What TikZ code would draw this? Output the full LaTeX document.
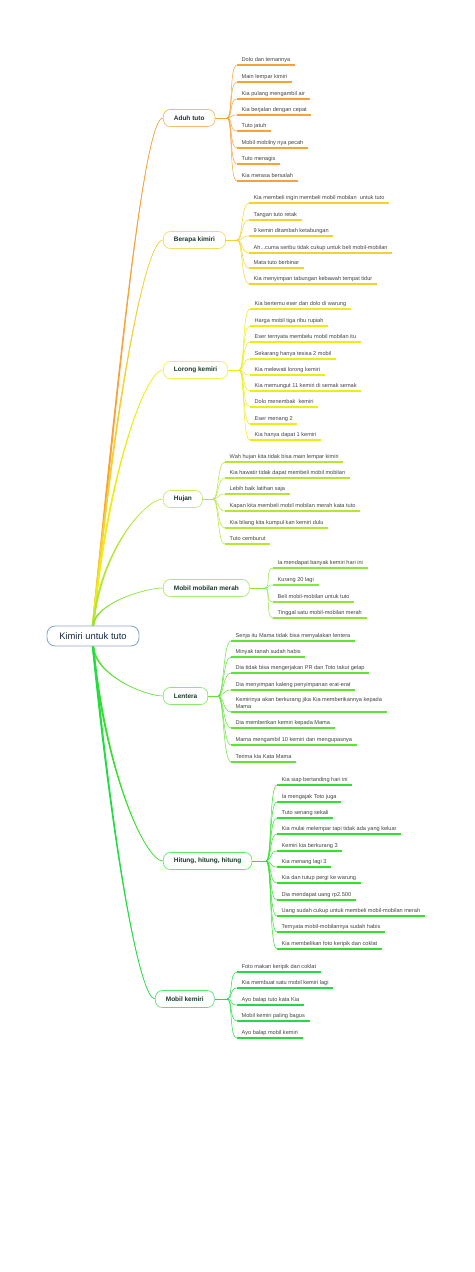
\documentclass[tikz,border=0pt]{standalone}
\usepackage{fontspec}
\setmainfont{Liberation Sans}
\usetikzlibrary{calc}
\definecolor{cA}{HTML}{F7A23B}
\definecolor{cB}{HTML}{F6D02E}
\definecolor{cC}{HTML}{EDEE10}
\definecolor{cD}{HTML}{B4E82E}
\definecolor{cE}{HTML}{8EE63C}
\definecolor{cF}{HTML}{5EE436}
\definecolor{cG}{HTML}{34E02C}
\definecolor{cH}{HTML}{22DC46}
\definecolor{rootc}{HTML}{8FA6C4}
\definecolor{roottext}{HTML}{1B2A48}
\definecolor{branchtext}{HTML}{1C3A2A}
\definecolor{leaftext}{HTML}{444444}
\pgfdeclarelayer{bg}
\pgfsetlayers{bg,main}
\newcommand\threedots{.{}.{}.}
\tikzset{
  rootbox/.style={draw=rootc, line width=0.9, rounded corners=8, fill=white,
    minimum width=92, minimum height=20, inner xsep=6,
    font=\fontsize{9.4}{11}\selectfont, text=roottext},
  branchbox/.style={draw=#1, line width=0.7, rounded corners=7, fill=white,
    minimum height=17, inner xsep=10.5, anchor=west,
    font=\bfseries\fontsize{6.5}{8}\selectfont, text=branchtext},
  leaf/.style={anchor=south west, inner xsep=4.5, inner ysep=2.6, text depth=1.2,
    font=\fontsize{5.6}{6.5}\selectfont, text=leaftext, align=left},
  ul/.style={line width=1.2, #1},
  twig/.style={line width=0.5, #1},
  stem/.style={line width=0.8, #1}
}
\newcommand\leafset[4]{%
  \foreach \yy/\lt [count=\i] in {#4} {
    \node[leaf] (#1\i) at (#3,\yy) {\lt};
    \begin{pgfonlayer}{bg}
    \draw[ul=#2] (#1\i.south west) -- (#1\i.south east);
    \draw[twig=#2] (#1J) .. controls ($(#1J)+(6,0)$) and ($(#1\i.south west)+(-8,0)$) .. (#1\i.south west);
    \end{pgfonlayer}
  }%
}
\newcommand\trunk[5]{%
  \fill[#1] ($(root.#2)+(-1.1,0)$) .. controls ($#4+(-1.1,0)$) and #5 .. (#3.west)
     .. controls #5 and ($#4+(1.1,0)$) .. ($(root.#2)+(1.1,0)$) -- cycle;
  \draw[#1, line width=0.6] (root.#2) .. controls #4 and #5 .. (#3.west);%
}
\begin{document}
\begin{tikzpicture}[x=1pt,y=-1pt]
\begin{pgfonlayer}{bg}
\fill[white] (0,0) rectangle (474,1272);
\end{pgfonlayer}
\useasboundingbox (0,0) rectangle (474,1272);

\node[rootbox] (root) at (93,636) {Kimiri untuk tuto};

\node[branchbox=cA!75!white] (a) at (163,118) {Aduh tuto};
\node[branchbox=cB!75!white] (b) at (163,240) {Berapa kimiri};
\node[branchbox=cC!75!white] (c) at (163,370) {Lorong kemiri};
\node[branchbox=cD!75!white] (d) at (163,499) {Hujan};
\node[branchbox=cE!75!white] (e) at (163,588) {Mobil mobilan merah};
\node[branchbox=cF!75!white] (f) at (163,696) {Lentera};
\node[branchbox=cG!75!white] (g) at (163,861) {Hitung, hitung, hitung};
\node[branchbox=cH!75!white] (h) at (155,999) {Mobil kemiri};

\coordinate (aJ) at (227,118);
\coordinate (bJ) at (237,240);
\coordinate (cJ) at (239,370);
\coordinate (dJ) at (213,499);
\coordinate (eJ) at (265,588);
\coordinate (fJ) at (218,696);
\coordinate (gJ) at (266,861);
\coordinate (hJ) at (227,999);

\begin{pgfonlayer}{bg}
\trunk{cA}{north}{a}{(123.5,321)}{(145.5,118)}
\trunk{cB}{north}{b}{(116,394)}{(145.5,240)}
\trunk{cC}{north}{c}{(108,472)}{(145.5,370)}
\trunk{cD}{north}{d}{(100.6,550)}{(145.5,499)}
\trunk{cE}{north}{e}{(95.3,603)}{(145.5,588)}
\trunk{cF}{south}{f}{(96,676)}{(145.5,696)}
\trunk{cG}{south}{g}{(106,775)}{(145.5,861)}
\trunk{cH}{south}{h}{(114,858)}{(140,999)}
\foreach \b/\c in {a/cA,b/cB,c/cC,d/cD,e/cE,f/cF,g/cG,h/cH}
  \draw[stem=\c] (\b.east) -- (\b J);
\end{pgfonlayer}

\leafset{a}{cA}{237}{65/Dolo dan temannya, 82/Main lempar kimiri, 99/Kia pulang mengambil air, 115/Kia berjalan dengan cepat, 131/Tuto jatuh, 148/Mobil mobilny nya pecah, 164/Tuto menagis, 181/Kia merasa bersalah}

\leafset{b}{cB}{249}{203/{Kia membeli ingin membeli mobil mobilan\ \ untuk tuto}, 220/Tangan tuto retak, 236/9 kemiri ditambah ketabungan, 253/{Ah\threedots cuma seribu tidak cukup untuk beli mobil-mobilan}, 268/Mata tuto berbinar, 284/Kia menyimpan tabungan kebawah tempat tidur}

\leafset{c}{cC}{250}{309/Kia bertemu eser dan dolo di warung, 326/Harga mobil tiga ribu rupiah, 342/Eser ternyata membelu mobil mobilan itu, 359/Sekarang hanya tesisa 2 mobil, 375/Kia melewati lorong kemiri, 391/Kia memungut 11 kemiri di semak semak, 407/{Dolo menembak\ \ kemiri}, 424/Eser menang 2, 440/Kia hanya dapat 1 kemiri}

\leafset{d}{cD}{225}{462/Wah hujan kita tidak bisa main lempar kimiri, 478/Kia hawatir tidak dapat membeli mobil mobilan, 494/Lebih baik latihan saja, 511/Kapan kita membeli mobil mobilan merah kata tuto, 528/Kia bilang kita kumpul kan kemiri dulu, 544/Tuto cemburut}

\leafset{e}{cE}{273}{568/Ia mendapat banyak kemiri hari ini, 585/Kurang 20 lagi, 602/Beli mobil-mobilan untuk tuto, 618/Tinggal satu mobil-mobilan merah}

\leafset{f}{cF}{231}{641/Senja itu Mama tidak bisa menyalakan lentera, 657/Minyak tanah sudah habis, 673/Dia tidak bisa mengerjakan PR dan Toto takut gelap, 690/Dia menyimpan kaleng penyimpanan erat-erat, 712/{Kemirinya akan berkurang jika Kia memberikannya kepada\\Mama}, 728/Dia memberikan kemiri kepada Mama, 745/Mama mengambil 10 kemiri dan mengupasnya, 762/Terima kia Kata Mama}

\leafset{g}{cG}{277}{785/Kia siap bertanding hari ini, 802/Ia mengajak Toto juga, 818/Tuto senang sekali, 834/Kia mulai melempar tapi tidak ada yang keluar, 851/Kemiri kia berkurang 3, 867/Kia menang lagi 3, 883/Kia dan tutup pergi ke warung, 900/{Dia mendapat uang rp2.500}, 916/Uang sudah cukup untuk membeli mobil-mobilan merah, 932/Ternyata mobil-mobilannya sudah habis, 949/Kia membelikan foto keripik dan coklat}

\leafset{h}{cH}{237}{972/Foto makan keripik dan coklat, 988/Kia membuat satu mobil kemiri lagi, 1005/Ayo balap tuto kata Kia, 1021/Mobil kemiri paling bagus, 1038/Ayo balap mobil kemiri}
\end{tikzpicture}
\end{document}
